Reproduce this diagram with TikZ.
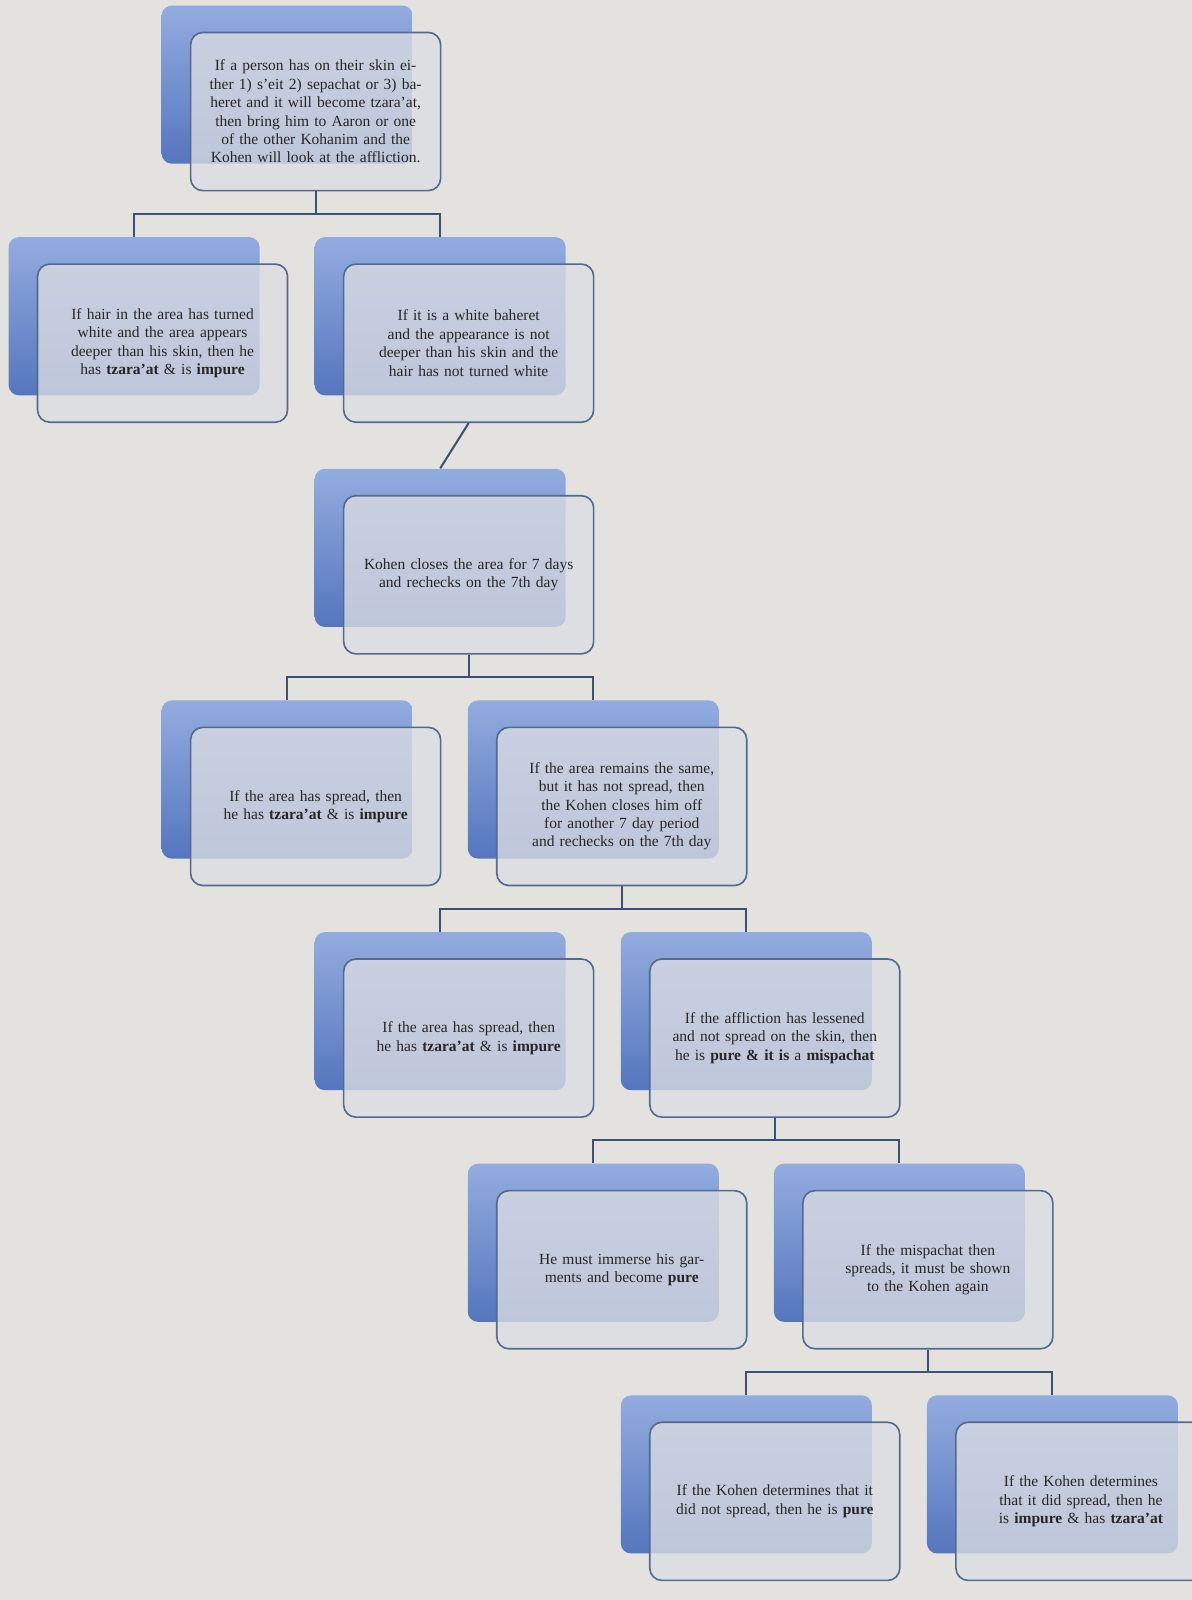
\documentclass[tikz,border=0pt]{standalone}
\usepackage{fontspec}
\setmainfont{Liberation Serif}
\begin{document}
\begin{tikzpicture}[x=0.5pt,y=-0.5pt,
  back/.style={anchor=north west,minimum width=123pt,minimum height=77.5pt,rounded corners=5pt,
    top color=backtop,bottom color=backbot,draw=none,inner sep=0pt},
  front/.style={anchor=north west,minimum width=122.5pt,minimum height=77.5pt,rounded corners=6pt,
    draw=frontline,line width=0.8pt,fill=frontfill,fill opacity=0.78,text opacity=1,
    align=center,text width=108pt,inner sep=0pt,font=\fontsize{7.6}{9}\selectfont,text=black!85},
  conn/.style={draw=connline,line width=1pt}]
\definecolor{bg}{HTML}{E4E2DF}
\definecolor{backtop}{HTML}{93ACDF}
\definecolor{backbot}{HTML}{5576BE}
\definecolor{frontline}{HTML}{53698F}
\definecolor{frontfill}{HTML}{DCDDE2}
\definecolor{connline}{HTML}{3E5174}
\fill[bg] (0,0) rectangle (1168,1568);
\useasboundingbox (0,0) rectangle (1168,1568);
\clip (0,0) rectangle (1168,1568);
\newcommand{\flowbox}[4]{%
  \node[back] (b#1) at (#2-28,#3-26) {};
  \node[front] (f#1) at (#2,#3) {#4};}
\flowbox{1}{186}{31}{If a person has on their skin either 1) s'eit 2) sepachat or 3) baheret and it will become tzara'at, then bring him to Aaron or one of the other Kohanim and the Kohen will look at the affliction.}
\flowbox{2}{36}{258}{If hair in the area has turned white and the area appears deeper than his skin, then he has \textbf{tzara'at} \& is \textbf{impure}}
\flowbox{3}{336}{258}{If it is a white baheret and the appearance is not deeper than his skin and the hair has not turned white}
\flowbox{4}{336}{485}{Kohen closes the area for 7 days and rechecks on the 7th day}
\flowbox{5}{186}{712}{If the area has spread, then he has \textbf{tzara'at} \& is \textbf{impure}}
\flowbox{6}{486}{712}{If the area remains the same, but it has not spread, then the Kohen closes him off for another 7 day period and rechecks on the 7th day}
\flowbox{7}{336}{939}{If the area has spread, then he has \textbf{tzara'at} \& is \textbf{impure}}
\flowbox{8}{636}{939}{If the affliction has lessened and not spread on the skin, then he is \textbf{pure \& it is} a \textbf{mispachat}}
\flowbox{9}{486}{1166}{He must immerse his garments and become \textbf{pure}}
\flowbox{10}{786}{1166}{If the mispachat then spreads, it must be shown to the Kohen again}
\flowbox{11}{636}{1393}{If the Kohen determines that it did not spread, then he is \textbf{pure}}
\flowbox{12}{936}{1393}{If the Kohen determines that it did spread, then he is \textbf{impure} \& has \textbf{tzara'at}}
\draw[conn] (f1.south) -- ++(0,22) -| (b2.north);
\draw[conn] (f1.south) -- ++(0,22) -| (b3.north);
\draw[conn] (f3.south) -- (b4.north);
\draw[conn] (f4.south) -- ++(0,22) -| (b5.north);
\draw[conn] (f4.south) -- ++(0,22) -| (b6.north);
\draw[conn] (f6.south) -- ++(0,22) -| (b7.north);
\draw[conn] (f6.south) -- ++(0,22) -| (b8.north);
\draw[conn] (f8.south) -- ++(0,22) -| (b9.north);
\draw[conn] (f8.south) -- ++(0,22) -| (b10.north);
\draw[conn] (f10.south) -- ++(0,22) -| (b11.north);
\draw[conn] (f10.south) -- ++(0,22) -| (b12.north);
\end{tikzpicture}
\end{document}
